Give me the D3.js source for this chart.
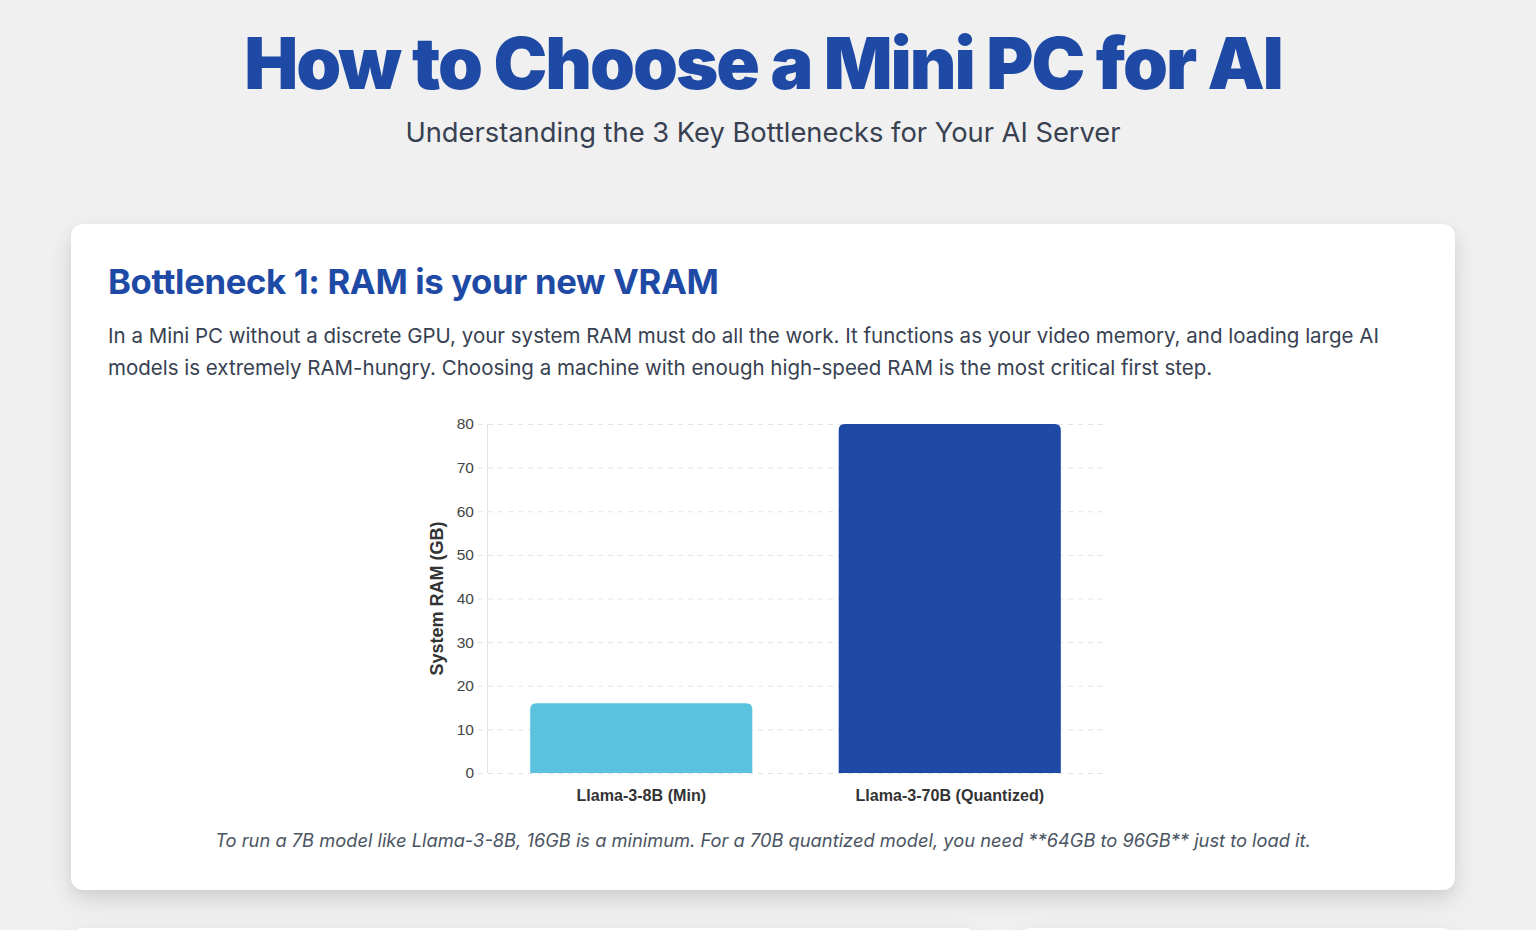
<!DOCTYPE html>
<html>
<head>
<meta charset="utf-8">
<script src="https://cdn.jsdelivr.net/npm/d3@7/dist/d3.min.js"></script>
<style>
    html, body {
        margin: 0;
        padding: 0;
        background: #f0f0f0;
        font-family: Inter, "Noto Sans", sans-serif;
        width: 1536px;
        height: 930px;
        overflow: hidden;
        position: relative;
    }
    .title {
        position: absolute;
        left: 0;
        width: 1526px;
        top: 18px;
        text-align: center;
        font-size: 72px;
        font-weight: 900;
        color: #1e4aa6;
        letter-spacing: -2px;
        margin: 0;
        line-height: 90px;
    }
    .subtitle {
        position: absolute;
        left: 0;
        width: 1526px;
        top: 115px;
        text-align: center;
        font-size: 27.3px;
        color: #374151;
        margin: 0;
        line-height: 36px;
    }
    .card {
        position: absolute;
        background: #fff;
        border-radius: 12px;
        box-shadow: 0 10px 25px rgba(0, 0, 0, 0.12), 0 4px 8px rgba(0, 0, 0, 0.04);
    }
    .card h2 {
        position: absolute;
        left: 37px;
        top: 36px;
        margin: 0;
        font-size: 34.7px;
        font-weight: 700;
        color: #1e4aa6;
        letter-spacing: -0.35px;
    }
    .card p.lead {
        position: absolute;
        left: 37px;
        top: 96px;
        width: 1300px;
        margin: 0;
        font-size: 20.5px;
        line-height: 32px;
        color: #374151;
    }
    .card p.note {
        position: absolute;
        left: 0;
        width: 1384px;
        top: 605px;
        margin: 0;
        text-align: center;
        font-style: italic;
        font-size: 18.3px;
        color: #4b5563;
    }
    #chart {
        position: absolute;
        left: 329px;
        top: 186px;
    }
</style>
</head>
<body>
<h1 class="title">How to Choose a Mini PC for AI</h1>
<div class="subtitle">Understanding the 3 Key Bottlenecks for Your AI Server</div>

<div class="card" style="left:71px; top:224px; width:1384px; height:666px;">
    <h2>Bottleneck 1: RAM is your new VRAM</h2>
    <p class="lead">In a Mini PC without a discrete GPU, your system RAM must do all the work. It functions as your video memory, and loading large AI models is extremely RAM-hungry. Choosing a machine with enough high-speed RAM is the most critical first step.</p>
    <svg id="chart"></svg>
    <p class="note">To run a 7B model like Llama-3-8B, 16GB is a minimum. For a 70B quantized model, you need **64GB to 96GB** just to load it.</p>
</div>

<div class="card" style="left:71px; top:928px; width:906px; height:400px;"></div>
<div class="card" style="left:1019px; top:928px; width:436px; height:400px;"></div>

<script>
const models = ['Llama-3-8B (Min)', 'Llama-3-70B (Quantized)'];
const ramGB = [16, 80];
const barColors = ['#5ac2de', '#1e4aa6'];
const yTicks = [0, 10, 20, 30, 40, 50, 60, 70, 80];
const yTitle = 'System RAM (GB)';

const margin = { top: 14, right: 16, bottom: 50, left: 87 };
const width = 720;
const height = 413;
const innerW = 617;
const innerH = height - margin.top - margin.bottom;

const svg = d3.select('#chart')
    .attr('width', width)
    .attr('height', height)
    .style('font-family', '"Liberation Sans", Arial, sans-serif');

const g = svg.append('g')
    .attr('transform', `translate(${margin.left},${margin.top})`);

const x = d3.scaleBand()
    .domain(models)
    .range([0, innerW])
    .paddingInner(0)
    .paddingOuter(0);

const y = d3.scaleLinear()
    .domain([0, 80])
    .range([innerH, 0]);

// grid
g.append('g')
    .selectAll('line')
    .data(yTicks)
    .join('line')
    .attr('x1', -9)
    .attr('x2', innerW)
    .attr('y1', d => y(d) + 0.5)
    .attr('y2', d => y(d) + 0.5)
    .attr('stroke', '#e3e3e3')
    .attr('stroke-width', 1)
    .attr('stroke-dasharray', '5,5');

const yAxis = g.append('g')
    .call(d3.axisLeft(y).tickValues(yTicks).tickSize(0).tickPadding(13));
yAxis.select('.domain').remove();
yAxis.selectAll('text')
    .attr('fill', '#444')
    .style('font-size', '15.5px');

g.append('line')
    .attr('x1', 0.5)
    .attr('x2', 0.5)
    .attr('y1', 0)
    .attr('y2', innerH)
    .attr('stroke', '#e3e3e3');

// bars, chart.js-like 0.9 * 0.8 width, rounded tops
const barW = x.bandwidth() * 0.72;
const r = 6;
function barPath(x0, y0, w, h) {
    const rr = Math.min(r, h, w / 2);
    return `M${x0},${y0 + h}V${y0 + rr}Q${x0},${y0} ${x0 + rr},${y0}H${x0 + w - rr}Q${x0 + w},${y0} ${x0 + w},${y0 + rr}V${y0 + h}Z`;
}

g.append('g')
    .selectAll('path')
    .data(models)
    .join('path')
    .attr('d', (d, i) => {
        const x0 = x(d) + (x.bandwidth() - barW) / 2;
        return barPath(x0, y(ramGB[i]), barW, innerH - y(ramGB[i]));
    })
    .attr('fill', (d, i) => barColors[i]);

const xAxis = g.append('g')
    .attr('transform', `translate(0,${innerH})`)
    .call(d3.axisBottom(x).tickSize(0).tickPadding(17));
xAxis.select('.domain').remove();
xAxis.selectAll('text')
    .attr('fill', '#333')
    .style('font-size', '16.1px')
    .style('font-weight', 'bold');

svg.append('text')
    .attr('transform', `translate(${margin.left - 44},${margin.top + innerH / 2}) rotate(-90)`)
    .attr('text-anchor', 'middle')
    .attr('fill', '#333')
    .style('font-size', '18px')
    .style('font-weight', 'bold')
    .text(yTitle);
</script>
</body>
</html>
